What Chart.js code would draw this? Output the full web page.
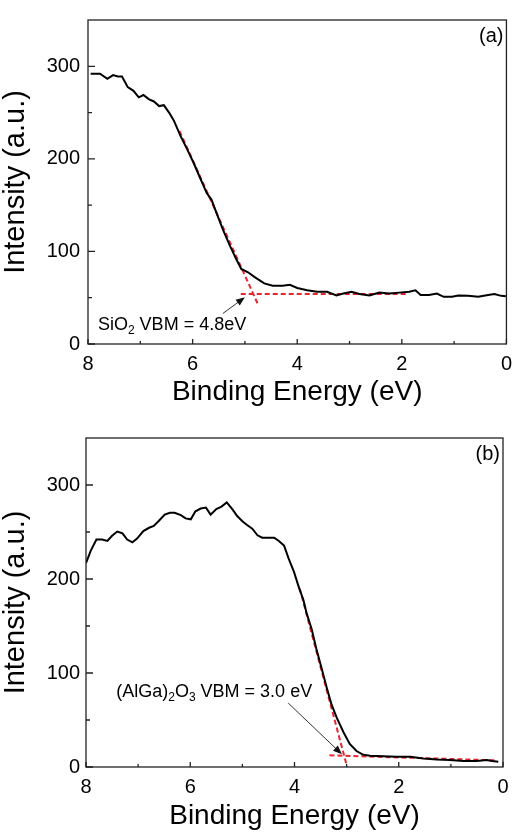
<!DOCTYPE html>
<html lang="en">
<head>
<meta charset="UTF-8">
<title>Valence band spectra</title>
<style>
    body { margin: 0; background: #fff; }
    .panel { position: absolute; left: 0; width: 520px; }
    #panelA { top: 0; height: 410px; }
    #panelB { top: 420px; height: 412px; }
</style>
</head>
<body>
<div class="panel" id="panelA"><canvas id="chartA"></canvas></div>
<div class="panel" id="panelB"><canvas id="chartB"></canvas></div>

<script src="https://cdn.jsdelivr.net/npm/chart.js"></script>
<script>
// (a) SiO2 spectrum
const energyA = [7.95, 7.77, 7.63, 7.52, 7.43, 7.35, 7.24, 7.13, 7.03, 6.94, 6.84, 6.74, 6.64, 6.55, 6.45, 6.36, 6.23, 6.11, 5.98, 5.85, 5.73, 5.64, 5.54, 5.42, 5.29, 5.16, 5.07, 4.94, 4.82, 4.63, 4.47, 4.28, 4.14, 4.00, 3.81, 3.62, 3.43, 3.25, 3.12, 2.96, 2.81, 2.62, 2.43, 2.24, 2.05, 1.86, 1.74, 1.64, 1.48, 1.33, 1.20, 1.04, 0.92, 0.73, 0.54, 0.35, 0.23, 0.10, 0.01];
const intensityA = [292, 292, 286.5, 290.5, 289, 289, 277.5, 273.5, 266.5, 269, 264.5, 262, 257, 258, 250, 241.5, 224.5, 211, 195.5, 178.5, 163, 156, 141, 123.5, 106.5, 91, 81, 77.5, 72.5, 65.5, 63, 63, 64, 60.5, 58, 56.5, 56.5, 52.5, 54.5, 56.5, 54, 52.5, 55.5, 54.5, 55.5, 56.5, 58, 53, 53, 54.5, 51, 51, 52.5, 52, 51, 53, 54, 52, 51.5];
// linear extrapolations (edge + background)
const edgeFitA_E = [6.25, 4.76];
const edgeFitA_I = [230, 44];
const baseFitA_E = [5.08, 1.92];
const baseFitA_I = [54, 54];

// (b) (AlGa)2O3 spectrum
const energyB = [8.0, 7.91, 7.80, 7.69, 7.59, 7.50, 7.40, 7.30, 7.21, 7.11, 7.02, 6.90, 6.79, 6.70, 6.60, 6.49, 6.39, 6.30, 6.18, 6.09, 5.99, 5.90, 5.80, 5.70, 5.61, 5.50, 5.40, 5.30, 5.19, 5.10, 5.00, 4.91, 4.81, 4.71, 4.62, 4.49, 4.39, 4.30, 4.20, 4.11, 4.01, 3.91, 3.83, 3.77, 3.67, 3.58, 3.48, 3.38, 3.29, 3.19, 3.06, 2.94, 2.81, 2.68, 2.55, 2.30, 2.04, 1.78, 1.53, 1.27, 1.02, 0.76, 0.50, 0.31, 0.21, 0.09];
const intensityB = [217, 230, 242, 242, 240.5, 246, 250.5, 248.5, 242, 239, 243, 251, 254.5, 256.5, 262, 268.5, 270.5, 270.5, 268, 264.5, 263.5, 272, 275, 276, 268.5, 274.5, 277, 281.5, 274, 267, 261.5, 257.5, 253.5, 246.5, 244, 244, 244, 240.5, 235.5, 221.5, 207.5, 190, 178, 164, 146.5, 125.5, 105, 84, 66.5, 52.5, 37, 24.5, 17, 13, 12, 11.5, 11, 11, 9, 8, 7.5, 6.5, 6.5, 7.5, 6.5, 5.5];
const edgeFitB_E = [3.9, 2.99];
const edgeFitB_I = [190, 0];
const baseFitB_E = [3.33, 0.12];
const baseFitB_I = [12.5, 7];

// ticks
const xMajor = [8, 6, 4, 2, 0];
const xMinor = [7, 5, 3, 1];
const yMajor = [0, 100, 200, 300];
const yMinor = [50, 150, 250];

const FONT = "'Liberation Sans', Arial, sans-serif";

function pts(xs, ys) {
    return xs.map((x, i) => ({ x: x, y: ys[i] }));
}

// box around plot + inward tick marks
const framePlugin = {
    id: 'frame',
    afterDatasetsDraw(chart) {
        const { ctx, chartArea: a, scales: { x, y } } = chart;
        ctx.save();
        ctx.strokeStyle = '#222';
        ctx.lineWidth = 1.3;
        ctx.strokeRect(a.left, a.top, a.right - a.left, a.bottom - a.top);
        ctx.beginPath();
        xMajor.forEach(v => { const px = x.getPixelForValue(v); ctx.moveTo(px, a.bottom); ctx.lineTo(px, a.bottom - 5); });
        xMinor.forEach(v => { const px = x.getPixelForValue(v); ctx.moveTo(px, a.bottom); ctx.lineTo(px, a.bottom - 3); });
        yMajor.forEach(v => { const py = y.getPixelForValue(v); ctx.moveTo(a.left, py); ctx.lineTo(a.left + 7, py); });
        yMinor.forEach(v => { const py = y.getPixelForValue(v); ctx.moveTo(a.left, py); ctx.lineTo(a.left + 4, py); });
        ctx.stroke();
        ctx.restore();
    }
};

// panel letter, VBM label with subscripts and arrow
const notePlugin = {
    id: 'note',
    afterDraw(chart, args, opts) {
        const { ctx, chartArea: a, scales: { x, y } } = chart;
        ctx.save();
        ctx.fillStyle = '#000';
        ctx.font = '20px ' + FONT;
        ctx.textAlign = 'right';
        ctx.textBaseline = 'middle';
        ctx.fillText(opts.letter, a.right - 3, a.top + 16);

        // label
        ctx.textAlign = 'left';
        ctx.textBaseline = 'alphabetic';
        let cx = x.getPixelForValue(opts.textAt[0]);
        const cy = y.getPixelForValue(opts.textAt[1]);
        opts.parts.forEach(([txt, sub]) => {
            const s = sub ? 12 : 18;
            ctx.font = s + 'px ' + FONT;
            ctx.fillText(txt, cx, sub ? cy + 4 : cy);
            cx += ctx.measureText(txt).width;
        });

        // arrow
        const x0 = x.getPixelForValue(opts.arrowFrom[0]), y0 = y.getPixelForValue(opts.arrowFrom[1]);
        const x1 = x.getPixelForValue(opts.arrowTo[0]), y1 = y.getPixelForValue(opts.arrowTo[1]);
        const ang = Math.atan2(y1 - y0, x1 - x0);
        ctx.strokeStyle = '#333';
        ctx.fillStyle = '#111';
        ctx.lineWidth = 1;
        ctx.beginPath();
        ctx.moveTo(x0, y0);
        ctx.lineTo(x1 - 7 * Math.cos(ang), y1 - 7 * Math.sin(ang));
        ctx.stroke();
        ctx.beginPath();
        ctx.moveTo(x1, y1);
        ctx.lineTo(x1 - 9 * Math.cos(ang) + 3.5 * Math.sin(ang), y1 - 9 * Math.sin(ang) - 3.5 * Math.cos(ang));
        ctx.lineTo(x1 - 9 * Math.cos(ang) - 3.5 * Math.sin(ang), y1 - 9 * Math.sin(ang) + 3.5 * Math.cos(ang));
        ctx.closePath();
        ctx.fill();
        ctx.restore();
    }
};

function makePanel(id, p) {
    const ctx = document.getElementById(id).getContext('2d');
    return new Chart(ctx, {
        type: 'line',
        data: {
            datasets: [{
                data: pts(p.energy, p.intensity),
                borderColor: '#000',
                borderWidth: 2,
                pointRadius: 0,
                tension: 0
            }, {
                data: pts(p.edgeE, p.edgeI),
                borderColor: '#e8252f',
                borderWidth: 2,
                borderDash: [5, 3],
                pointRadius: 0
            }, {
                data: pts(p.baseE, p.baseI),
                borderColor: '#e8252f',
                borderWidth: 2,
                borderDash: [5, 3],
                pointRadius: 0
            }]
        },
        options: {
            responsive: true,
            maintainAspectRatio: false,
            animation: false,
            layout: { padding: { top: p.padTop, right: p.padRight, left: 0, bottom: 0 } },
            scales: {
                x: {
                    type: 'linear',
                    reverse: true,
                    min: 0,
                    max: 8,
                    afterBuildTicks: s => { s.ticks = xMajor.map(v => ({ value: v })); },
                    afterFit: s => { s.height = p.xHeight; },
                    grid: { display: false, drawTicks: false },
                    border: { display: false },
                    ticks: { color: '#000', padding: 8, maxRotation: 0, font: { family: FONT, size: 20 } },
                    title: {
                        display: true,
                        text: 'Binding Energy (eV)',
                        color: '#000',
                        font: { family: FONT, size: 28, lineHeight: 1.1 },
                        padding: { top: 0, bottom: p.titlePad }
                    }
                },
                y: {
                    min: 0,
                    max: 350,
                    afterBuildTicks: s => { s.ticks = yMajor.map(v => ({ value: v })); },
                    afterFit: s => { s.width = p.yWidth; },
                    grid: { display: false, drawTicks: false },
                    border: { display: false },
                    ticks: { color: '#000', padding: p.yPad, font: { family: FONT, size: 20 } },
                    title: {
                        display: true,
                        text: 'Intensity (a.u.)',
                        color: '#000',
                        font: { family: FONT, size: 29, lineHeight: 1.1 },
                        padding: { top: 0, bottom: 0 }
                    }
                }
            },
            plugins: {
                legend: { display: false },
                tooltip: { enabled: false },
                note: p.note
            }
        },
        plugins: [framePlugin, notePlugin]
    });
}

makePanel('chartA', {
    energy: energyA, intensity: intensityA,
    edgeE: edgeFitA_E, edgeI: edgeFitA_I,
    baseE: baseFitA_E, baseI: baseFitA_I,
    padTop: 2, padRight: 8, yWidth: 88, xHeight: 66, yPad: 8, titlePad: 2,
    note: {
        letter: '(a)',
        parts: [['SiO', false], ['2', true], [' VBM = 4.8eV', false]],
        textAt: [7.81, 15.4],
        arrowFrom: [5.42, 33],
        arrowTo: [5.0, 50.5]
    }
});

makePanel('chartB', {
    energy: energyB, intensity: intensityB,
    edgeE: edgeFitB_E, edgeI: edgeFitB_I,
    baseE: baseFitB_E, baseI: baseFitB_I,
    padTop: 12, padRight: 17, yWidth: 86, xHeight: 65, yPad: 6, titlePad: 0,
    note: {
        letter: '(b)',
        parts: [['(AlGa)', false], ['2', true], ['O', false], ['3', true], [' VBM = 3.0 eV', false]],
        textAt: [7.42, 75],
        arrowFrom: [4.12, 68],
        arrowTo: [3.09, 13.5]
    }
});
</script>
</body>
</html>
